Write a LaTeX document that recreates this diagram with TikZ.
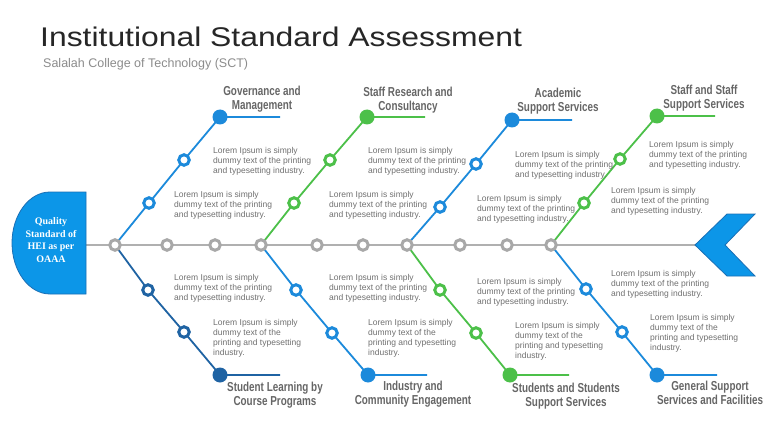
\documentclass[tikz,border=0pt]{standalone}
\usepackage{fontspec}
\setmainfont{Liberation Sans}
\newfontfamily\serifbold{Liberation Serif}
\pgfdeclarelayer{background}
\pgfsetlayers{background,main}
\definecolor{bblue}{HTML}{1C8ADB}
\definecolor{dblue}{HTML}{1F63A3}
\definecolor{bgreen}{HTML}{4CC049}
\definecolor{spinegray}{HTML}{B0B0B0}
\definecolor{ringgray}{HTML}{A8A8A8}
\definecolor{txtgray}{HTML}{707070}
\definecolor{lblgray}{HTML}{666666}
\definecolor{shapefill}{HTML}{0C96E8}
\definecolor{shapeline}{HTML}{1A6FB5}
\tikzset{
  ring/.style={circle, draw=#1, line width=3pt, fill=white, minimum size=10.5pt, inner sep=0pt},
  dot/.style={circle, fill=#1, minimum size=15pt, inner sep=0pt},
  branch/.style={draw=#1, line width=1.8pt},
  lorem/.style={anchor=north west, inner sep=0pt, align=left, text=txtgray,
    font=\fontsize{8.5}{10}\selectfont},
  lbl/.style={inner sep=0pt, align=center, text=lblgray,
    font=\fontsize{13}{13.5}\selectfont\bfseries, xscale=0.76}
}
\begin{document}
\begin{tikzpicture}[x=1pt,y=-1pt]
\useasboundingbox (0,0) rectangle (768,433);

% title
\node[anchor=base west, inner sep=0pt, text=black!85, font=\fontsize{27}{30}\selectfont, xscale=1.18] (title) at (40,47) {Institutional Standard Assessment};
\node[anchor=base west, inner sep=0pt, text=black!45, font=\fontsize{12.5}{14}\selectfont] (subtitle) at (43,68) {Salalah College of Technology (SCT)};

% head shape (left)
\draw[fill=shapefill, draw=shapeline, line width=0.8pt]
  (86,192) -- (50,192) .. controls (29,192) and (12,215) .. (12,243)
  .. controls (12,271) and (29,294) .. (50,294) -- (86,294) -- cycle;
\node[text=white, align=center, inner sep=0pt, font=\serifbold\bfseries\fontsize{10}{12.5}\selectfont] (q) at (51,240) {Quality\\Standard of\\HEI as per\\OAAA};
\coordinate (qE) at (86,245);

% tail chevron (right)
\draw[fill=shapefill, draw=shapeline, line width=0.8pt]
  (695,245) -- (727,214) -- (755,214) -- (725,245) -- (755,276) -- (727,276) -- cycle;
\coordinate (tip) at (695,245);

% spine circles
\foreach \n/\x in {1/115,2/167,3/215,4/261,5/317,6/363,7/407,8/460,9/507,10/551}
  \node[ring=ringgray] (s\n) at (\x,245) {};

% branch circles upper
\node[ring=bblue] (a1) at (149,203) {};
\node[ring=bblue] (a2) at (184,160) {};
\node[dot=bblue] (a3) at (220,117) {};
\coordinate (a4) at (280,117);

\node[ring=bgreen] (b1) at (294,203) {};
\node[ring=bgreen] (b2) at (330,160) {};
\node[dot=bgreen] (b3) at (367,117) {};
\coordinate (b4) at (425,117);

\node[ring=bblue] (c1) at (440,207) {};
\node[ring=bblue] (c2) at (476,164) {};
\node[dot=bblue] (c3) at (512,120) {};
\coordinate (c4) at (572,120);

\node[ring=bgreen] (d1) at (584,203) {};
\node[ring=bgreen] (d2) at (620,159) {};
\node[dot=bgreen] (d3) at (657,116) {};
\coordinate (d4) at (715,116);

% branch circles lower
\node[ring=dblue] (e1) at (148,290) {};
\node[ring=dblue] (e2) at (184,332) {};
\node[dot=dblue] (e3) at (220,375) {};
\coordinate (e4) at (280,375);

\node[ring=bblue] (f1) at (296,290) {};
\node[ring=bblue] (f2) at (332,333) {};
\node[dot=bblue] (f3) at (368,375) {};
\coordinate (f4) at (427,375);

\node[ring=bgreen] (g1) at (440,290) {};
\node[ring=bgreen] (g2) at (476,333) {};
\node[dot=bgreen] (g3) at (510,375) {};
\coordinate (g4) at (569,375);

\node[ring=bblue] (h1) at (586,289) {};
\node[ring=bblue] (h2) at (622,332) {};
\node[dot=bblue] (h3) at (657,375) {};
\coordinate (h4) at (717,375);

\begin{pgfonlayer}{background}
  \fill[white] (0,0) rectangle (768,433);
  \draw[spinegray, line width=1.8pt] (qE) -- (tip);
  \draw[branch=bblue] (s1.center) -- (a1.center) -- (a2.center) -- (a3.center) -- (a4);
  \draw[branch=bgreen] (s4.center) -- (b1.center) -- (b2.center) -- (b3.center) -- (b4);
  \draw[branch=bblue] (s7.center) -- (c1.center) -- (c2.center) -- (c3.center) -- (c4);
  \draw[branch=bgreen] (s10.center) -- (d1.center) -- (d2.center) -- (d3.center) -- (d4);
  \draw[branch=dblue] (s1.center) -- (e1.center) -- (e2.center) -- (e3.center) -- (e4);
  \draw[branch=bblue] (s4.center) -- (f1.center) -- (f2.center) -- (f3.center) -- (f4);
  \draw[branch=bgreen] (s7.center) -- (g1.center) -- (g2.center) -- (g3.center) -- (g4);
  \draw[branch=bblue] (s10.center) -- (h1.center) -- (h2.center) -- (h3.center) -- (h4);
\end{pgfonlayer}

% branch labels
\node[lbl] (la) at (262,99) {Governance and\\Management};
\node[lbl] (lb) at (408,100) {Staff Research and\\Consultancy};
\node[lbl] (lc) at (558,101) {Academic\\Support Services};
\node[lbl] (ld) at (704,98) {Staff and Staff\\Support Services};
\node[lbl] (le) at (275,395) {Student Learning by\\Course Programs};
\node[lbl] (lf) at (413,394) {Industry and\\Community Engagement};
\node[lbl] (lg) at (566,396) {Students and Students\\Support Services};
\node[lbl] (lh) at (710,393) {General Support\\Services and Facilities};

% lorem texts
\newcommand{\lthree}{Lorem Ipsum is simply\\dummy text of the printing\\and typesetting industry.}
\newcommand{\lfour}{Lorem Ipsum is simply\\dummy text of the\\printing and typesetting\\industry.}
\node[lorem] (t1) at (213,147) {\lthree};
\node[lorem] (t2) at (174,191) {\lthree};
\node[lorem] (t3) at (368,147) {\lthree};
\node[lorem] (t4) at (329,191) {\lthree};
\node[lorem] (t5) at (515,151) {\lthree};
\node[lorem] (t6) at (477,195) {\lthree};
\node[lorem] (t7) at (649,141) {\lthree};
\node[lorem] (t8) at (611,187) {\lthree};
\node[lorem] (u1) at (174,274) {\lthree};
\node[lorem] (u2) at (213,319) {\lfour};
\node[lorem] (u3) at (329,274) {\lthree};
\node[lorem] (u4) at (368,319) {\lfour};
\node[lorem] (u5) at (477,278) {\lthree};
\node[lorem] (u6) at (515,322) {\lfour};
\node[lorem] (u7) at (611,270) {\lthree};
\node[lorem] (u8) at (650,314) {\lfour};
\end{tikzpicture}
\end{document}
